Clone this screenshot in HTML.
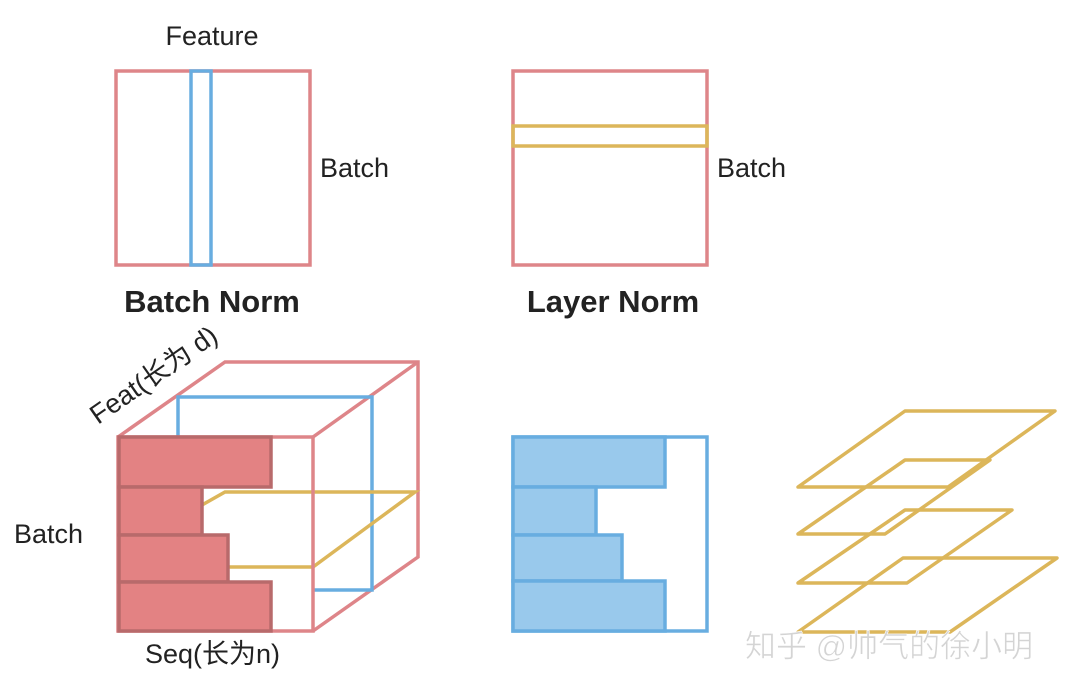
<!DOCTYPE html>
<html><head><meta charset="utf-8"><style>
html,body{margin:0;padding:0;background:#fff;width:1065px;height:690px;overflow:hidden}
svg{display:block}
text{font-family:"Liberation Sans","Noto Sans CJK SC",sans-serif;fill:#222}
</style></head><body>
<svg width="1065" height="690" viewBox="0 0 1065 690" xmlns="http://www.w3.org/2000/svg">
<g fill="none" stroke-width="3.5">
<rect x="116" y="71" width="194" height="194" stroke="#de8589"/>
<rect x="191" y="71" width="20" height="194" stroke="#68ade0"/>
<rect x="513" y="71" width="194" height="194" stroke="#de8589"/>
<rect x="513" y="126" width="194" height="20" stroke="#dcb65a"/>
<polyline points="118,437 225,362 418,362 418,557 313,631" stroke="#de8589"/>
<line x1="313" y1="437" x2="418" y2="362" stroke="#de8589"/>
<polyline points="178,437 178,397 372,397 372,590 313,590" stroke="#68ade0"/>
<polyline points="202,505 225,492 415,492 313,567 228,567" stroke="#dcb65a"/>
<rect x="118" y="437" width="195" height="194" stroke="#de8589"/>
</g>
<g fill="#e38283" stroke="#b86a6b" stroke-width="3.5">
<rect x="119" y="437" width="152" height="50"/>
<rect x="119" y="487" width="83" height="48"/>
<rect x="119" y="535" width="109" height="47"/>
<rect x="119" y="582" width="152" height="49"/>
</g>
<rect x="513" y="437" width="194" height="194" fill="none" stroke="#68ade0" stroke-width="3.5"/>
<g fill="#99c9ec" stroke="#68ade0" stroke-width="3.5">
<rect x="513" y="437" width="152" height="50"/>
<rect x="513" y="487" width="83" height="48"/>
<rect x="513" y="535" width="109" height="46"/>
<rect x="513" y="581" width="152" height="50"/>
</g>
<g fill="none" stroke="#dcb65a" stroke-width="3.5" stroke-linejoin="round">
<polygon points="798,487 905,411 1055,411 948,487"/>
<polygon points="798,534 905,460 990,460 885,534"/>
<polygon points="798,583 905,510 1012,510 907,583"/>
<polygon points="798,632 903,558 1057,558 950,632"/>
</g>
<text x="212" y="45" font-size="27" text-anchor="middle">Feature</text>
<text x="320" y="177" font-size="27">Batch</text>
<text x="717" y="177" font-size="27">Batch</text>
<text x="212" y="312" font-size="31" font-weight="bold" text-anchor="middle">Batch Norm</text>
<text x="613" y="312" font-size="31" font-weight="bold" text-anchor="middle">Layer Norm</text>
<text x="14" y="543" font-size="27">Batch</text>
<text x="145" y="663" font-size="27">Seq(长为n)</text>
<text transform="translate(98,425) rotate(-35)" font-size="27">Feat(长为 d)</text>
<text x="745" y="657" font-size="31" style="fill:#d4d4d4;stroke:#fff;stroke-width:0.6">知乎 @帅气的徐小明</text>
</svg>
</body></html>
